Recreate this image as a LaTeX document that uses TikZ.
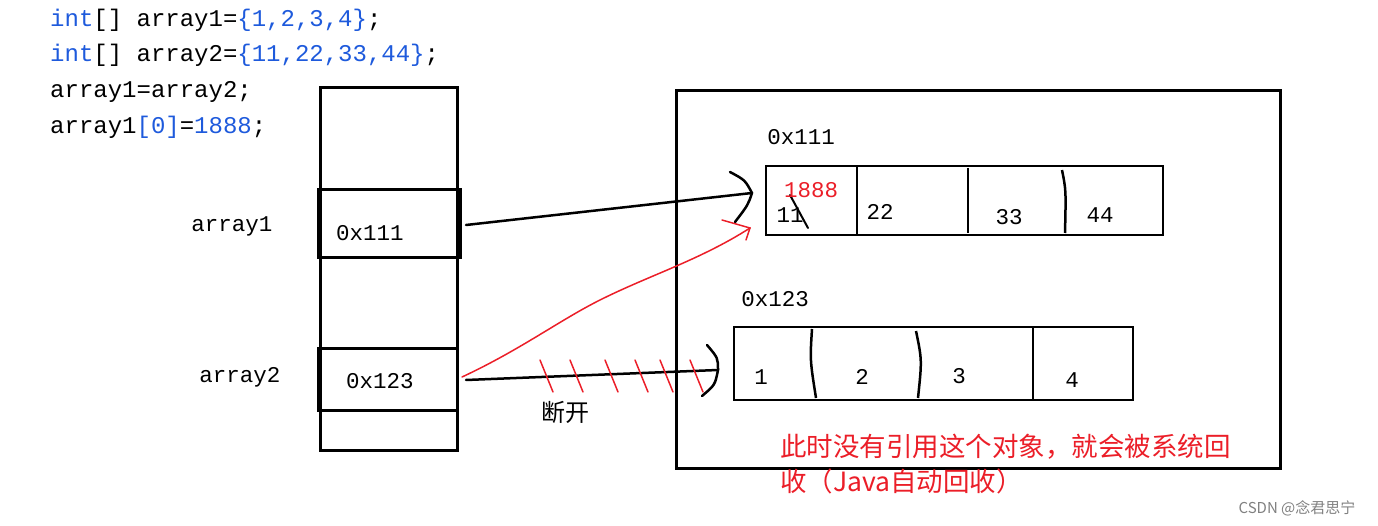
\documentclass[tikz,border=0pt]{standalone}
\usepackage{fontspec}
\setmainfont{Liberation Serif}
\setmonofont{Liberation Mono}
\newfontfamily\cjk{Noto Sans CJK SC}
\definecolor{codeblue}{RGB}{30,90,220}
\definecolor{hred}{RGB}{235,30,40}
\tikzset{
  box/.style={draw=black,line width=3pt},
  cell/.style={draw=black,line width=2.5pt},
  lbl/.style={font=\ttfamily\fontsize{22.5}{22.5}\selectfont,inner sep=0pt},
  code/.style={font=\ttfamily\fontsize{24}{24}\selectfont,anchor=west,inner sep=0pt},
  pen/.style={line width=2.5pt,line cap=round,line join=round},
  redpen/.style={hred,line width=1.5pt,line cap=round},
}
\begin{document}
\begin{tikzpicture}[x=1pt,y=-1pt]
\useasboundingbox (0,0) rectangle (1378,526);
% code
\node[code] (c1) at (50,20) {\textcolor{codeblue}{int}[] array1=\textcolor{codeblue}{\{1,2,3,4\}};};
\node[code] (c2) at (50,55) {\textcolor{codeblue}{int}[] array2=\textcolor{codeblue}{\{11,22,33,44\}};};
\node[code] (c3) at (50,92) {array1=array2;};
\node[code] (c4) at (50,127) {array1\textcolor{codeblue}{[0]}=\textcolor{codeblue}{1888};};
% stack
\draw[box] (320,88) rectangle (457,450);
\draw[box] (318,190) rectangle (460,258);
\draw[box] (318,349) rectangle (457,410);
\node[lbl] (a1) at (232,226) {array1};
\node[lbl] (a2) at (240,377) {array2};
\node[lbl] (p1) at (370,233) {0x111};
\node[lbl] (p2) at (380,381) {0x123};
% heap
\draw[box] (676,91) rectangle (1280,468);
\node[lbl] (h1) at (801,137) {0x111};
\draw[cell] (766,166) rectangle (1163,235);
\draw[cell] (857,166) -- (857,235);
\draw[cell] (968,168) -- (968,233);
\draw[cell] (1062,170) .. controls (1066,190) .. (1065,233);
\node[lbl] (v11) at (790,215) {11};
\draw[pen,line width=2pt] (790,195) -- (808,228);
\node[lbl,text=hred] (v18) at (811,190) {1888};
\node[lbl] (v22) at (880,212) {22};
\node[lbl] (v33) at (1009,217) {33};
\node[lbl] (v44) at (1100,215) {44};
\node[lbl] (h2) at (775,299) {0x123};
\draw[cell] (734,327) rectangle (1133,400);
\draw[cell] (812,329) .. controls (810,360) .. (816,398);
\draw[cell] (916,331) .. controls (922,360) .. (918,398);
\draw[cell] (1033,327) -- (1033,400);
\node[lbl] (w1) at (761,377) {1};
\node[lbl] (w2) at (862,377) {2};
\node[lbl] (w3) at (959,376) {3};
\node[lbl] (w4) at (1072,380) {4};
% arrows
\coordinate (t1) at (752,193);
\coordinate (t2) at (718,370);
\coordinate (t3) at (750,228);
\draw[pen] (466,225) -- (t1);
\draw[pen] (730,172) .. controls (745,180) .. (t1) .. controls (748,205) .. (735,222);
\draw[pen] (466,380) -- (t2);
\draw[pen] (707,345) .. controls (718,358) .. (t2) .. controls (715,385) .. (702,396);
\draw[redpen] (462,377) .. controls (520,350) and (560,320) .. (600,300)
  .. controls (650,275) and (700,260) .. (t3);
\draw[redpen] (722,220) -- (t3) -- (746,240);
\foreach \x in {545,575,610,640,665,695}
  \draw[redpen] (\x-5,360) -- (\x+8,392);
\node[lbl,font=\cjk\fontsize{24}{24}\selectfont] (dk) at (565,412) {断开};
\node[lbl,font=\cjk\fontsize{26.5}{35}\selectfont,text=hred,anchor=north west,align=left] (note) at (780,434) {此时没有引用这个对象，就会被系统回\\收（Java自动回收）};
\node[lbl,font=\cjk\fontsize{15}{15}\selectfont,text=gray] (wm) at (1297,508) {CSDN @念君思宁};
\end{tikzpicture}
\end{document}
